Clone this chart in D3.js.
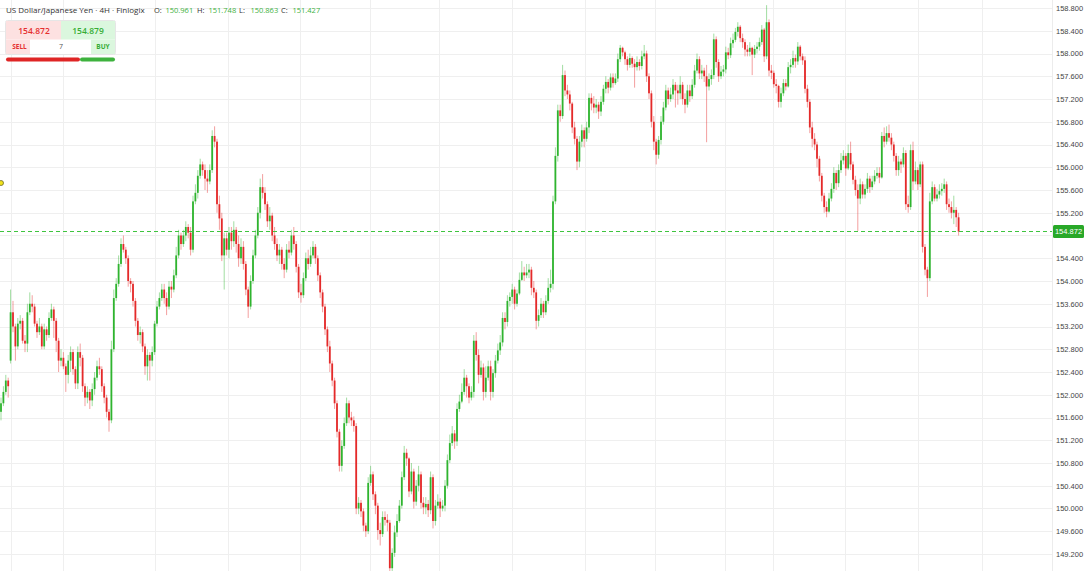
<!DOCTYPE html>
<html>
<head>
<meta charset="utf-8">
<script src="https://cdn.jsdelivr.net/npm/d3@7"></script>
<style>
  html, body { margin: 0; padding: 0; background: #fff; overflow: hidden; }
  svg { display: block; }
</style>
</head>
<body>
<div id="chart"></div>
<script>
// USD/JPY 4H candles (oldest first)
var opens = [
151.70,151.85,152.05,152.25,152.60,153.45,153.20,152.85,153.25,153.30,152.95,152.90,153.45,153.60,153.55,153.25,153.10,153.20,152.85,153.15,
153.05,153.35,153.50,153.30,152.95,152.60,152.65,152.50,152.35,152.60,152.75,152.45,152.20,152.75,152.65,152.15,151.95,152.05,151.90,152.10,
152.30,152.50,152.45,152.15,151.95,151.70,151.55,152.80,153.70,153.95,154.30,154.65,154.55,154.40,154.00,153.95,153.65,153.30,153.05,153.10,
152.85,152.50,152.70,152.60,152.75,153.25,153.55,153.70,153.85,153.70,153.55,153.90,153.85,154.10,154.45,154.80,154.65,154.80,154.95,154.85,
154.55,155.40,155.55,155.85,156.05,155.95,155.80,155.75,155.95,156.55,156.45,155.35,155.10,154.45,154.75,154.55,154.85,154.70,154.90,154.65,
154.40,154.60,154.30,153.85,153.55,154.00,154.45,154.80,155.20,155.65,155.55,155.35,155.05,155.15,154.80,154.65,154.45,154.55,154.30,154.20,
154.55,154.50,154.80,154.65,154.25,153.80,153.75,154.05,154.40,154.30,154.45,154.60,154.40,154.10,153.80,153.55,153.15,152.85,152.55,152.25,
151.85,151.35,150.75,151.10,151.50,151.85,151.60,151.55,151.45,150.00,150.10,149.95,149.70,149.60,150.45,150.60,150.25,150.05,149.62,149.55,
149.85,149.80,149.75,148.95,149.22,149.58,149.78,150.05,150.55,150.98,150.88,150.30,150.65,150.12,150.40,150.60,150.10,150.02,150.08,149.97,
150.55,149.78,150.05,150.12,150.00,150.05,150.40,150.85,151.15,151.32,151.18,151.75,151.88,152.05,152.30,152.15,151.95,152.05,152.95,152.70,
152.35,152.48,152.05,152.30,152.50,152.05,152.38,152.60,152.78,152.92,153.35,153.28,153.65,153.72,153.85,153.60,153.78,154.02,154.15,154.10,
154.15,154.20,153.88,153.80,153.30,153.40,153.60,153.45,153.65,153.88,153.95,155.40,156.20,157.00,156.90,157.62,157.35,157.28,157.12,156.70,
156.50,156.10,156.45,156.65,156.50,156.70,157.22,157.12,157.05,157.10,156.98,157.15,157.38,157.50,157.40,157.58,157.48,157.56,157.90,158.10,
158.02,157.90,157.80,157.92,157.82,157.76,157.85,157.78,157.95,158.00,157.60,157.30,156.80,156.45,156.22,156.48,156.80,157.05,157.35,157.20,
157.28,157.45,157.35,157.30,157.45,157.20,157.10,157.35,157.25,157.45,157.70,157.90,157.65,157.70,157.60,157.42,157.55,157.62,158.25,157.85,
157.60,157.68,157.72,158.02,157.97,158.18,158.24,158.38,158.47,158.27,158.20,158.07,158.03,158.10,157.98,158.08,158.12,158.20,158.42,157.95,
158.55,157.70,157.66,157.46,157.43,157.15,157.30,157.48,157.42,157.76,157.80,157.92,157.86,158.12,157.95,157.88,157.38,157.15,156.70,156.50,
156.40,156.15,155.85,155.50,155.30,155.22,155.45,155.62,155.90,155.72,155.95,156.12,156.20,155.98,156.25,156.05,155.78,155.60,155.45,155.70,
155.52,155.62,155.80,155.65,155.75,155.85,155.90,155.82,156.55,156.45,156.60,156.52,156.40,156.20,155.95,156.10,156.05,156.25,155.35,155.30,
156.30,155.75,155.95,155.70,156.05,154.60,154.20,154.05,155.40,155.65,155.45,155.52,155.58,155.62,155.70,155.35,155.30,155.20,155.25,155.12
];
var highs = [
151.95,152.15,152.35,152.30,153.85,153.65,153.25,153.35,153.40,153.35,153.05,153.60,153.80,153.75,153.60,153.30,153.35,153.25,153.25,153.20,
153.45,153.60,153.55,153.35,153.00,152.80,152.75,152.55,152.70,152.85,152.80,152.50,152.85,152.90,152.70,152.20,152.15,152.10,152.20,152.40,
152.60,152.65,152.50,152.20,152.00,151.75,152.95,153.85,154.05,154.45,154.75,154.80,154.60,154.45,154.05,154.00,153.70,153.35,153.20,153.15,
152.90,152.80,152.75,152.85,153.30,153.65,153.80,153.95,153.95,153.80,154.00,154.00,154.20,154.60,154.90,154.85,154.90,155.05,155.00,154.95,
155.50,155.70,155.95,156.15,156.10,156.05,155.95,156.05,156.65,156.72,156.50,155.50,155.20,154.85,154.85,154.95,154.95,155.05,154.95,154.80,
154.75,154.70,154.35,153.90,154.10,154.55,154.90,155.30,155.80,155.88,155.65,155.40,155.30,155.20,154.95,154.75,154.65,154.60,154.40,154.65,
154.70,154.90,154.95,154.70,154.30,153.95,154.15,154.50,154.55,154.60,154.70,154.65,154.45,154.15,153.85,153.60,153.20,152.95,152.60,152.30,
151.90,151.40,151.20,151.60,151.95,151.90,151.70,151.62,151.50,150.20,150.15,150.00,149.75,150.55,150.75,150.65,150.30,150.10,149.75,149.95,
149.95,149.90,149.80,149.30,149.70,149.90,150.15,150.65,151.10,151.05,150.90,150.80,150.70,150.50,150.75,150.65,150.20,150.20,150.15,150.65,
150.60,150.15,150.25,150.18,150.15,150.50,150.95,151.30,151.45,151.38,151.85,152.00,152.20,152.45,152.35,152.20,152.15,153.05,153.10,152.80,
152.60,152.55,152.50,152.60,152.60,152.45,152.70,152.90,153.05,153.45,153.45,153.75,153.80,153.95,153.90,153.85,154.15,154.35,154.25,154.30,
154.30,154.25,154.00,153.85,153.50,153.70,153.65,153.75,154.05,154.20,155.50,156.35,157.10,157.10,157.80,157.70,157.45,157.35,157.15,156.80,
156.55,156.55,156.75,156.70,156.80,157.30,157.30,157.25,157.20,157.15,157.25,157.45,157.60,157.55,157.65,157.65,157.65,158.00,158.15,158.12,
158.05,157.95,158.00,157.95,157.90,157.95,157.90,158.05,158.15,158.05,157.65,157.35,156.90,156.50,156.55,156.90,157.15,157.45,157.40,157.40,
157.55,157.50,157.45,157.60,157.50,157.30,157.45,157.45,157.55,157.80,158.00,157.95,157.80,157.75,157.80,157.65,157.72,158.35,158.30,157.90,
157.78,157.80,158.12,158.10,158.28,158.35,158.45,158.55,158.50,158.35,158.25,158.15,158.20,158.12,158.15,158.20,158.28,158.50,158.45,158.85,
158.60,157.80,157.70,157.55,157.45,157.40,157.55,157.55,157.85,157.90,158.05,157.98,158.20,158.15,158.00,157.95,157.45,157.20,156.80,156.60,
156.45,156.20,155.90,155.55,155.40,155.55,155.72,156.00,155.95,156.05,156.25,156.30,156.25,156.40,156.45,156.10,155.85,155.70,155.80,155.75,
155.70,155.90,155.85,155.85,155.95,156.00,156.00,156.62,156.70,156.72,156.75,156.60,156.45,156.25,156.20,156.15,156.35,156.30,155.50,156.40,
156.45,156.10,156.00,156.10,156.10,154.65,154.25,155.55,155.75,155.70,155.62,155.70,155.72,155.80,155.75,155.45,155.40,155.50,155.30,155.20
];
var lows = [
151.55,151.80,152.00,151.95,152.55,153.10,152.60,152.80,153.15,152.90,152.75,152.75,153.40,153.45,153.20,153.00,153.05,152.80,152.80,152.95,
153.00,153.30,153.00,152.75,152.40,152.50,152.45,152.05,152.20,152.40,152.35,152.10,152.10,152.50,152.05,151.80,151.85,151.75,151.80,152.00,
152.25,152.35,152.05,151.85,151.60,151.35,151.50,152.75,153.65,153.90,154.25,154.50,154.30,153.90,153.80,153.55,153.20,152.95,152.90,152.75,
152.35,152.25,152.25,152.50,152.70,153.20,153.50,153.65,153.60,153.40,153.50,153.70,153.80,154.05,154.40,154.55,154.60,154.70,154.75,154.45,
154.50,155.35,155.45,155.80,155.85,155.60,155.55,155.70,155.90,156.35,155.20,154.90,154.35,153.85,154.45,154.40,154.55,154.60,154.50,154.25,
154.30,154.20,153.75,153.35,153.50,153.95,154.40,154.75,155.10,155.45,155.25,154.95,154.90,154.70,154.55,154.35,154.30,154.20,154.05,154.15,
154.40,154.45,154.55,154.15,153.70,153.62,153.70,154.00,154.20,154.25,154.40,154.30,154.00,153.70,153.45,153.05,152.75,152.40,152.15,151.75,
151.25,150.65,150.65,151.05,151.45,151.50,151.45,151.35,149.90,149.90,149.85,149.60,149.50,149.55,150.40,150.15,149.90,149.45,149.35,149.50,
149.70,149.60,148.85,148.90,149.15,149.50,149.75,150.00,150.50,150.75,150.20,150.25,150.00,150.05,150.30,150.00,149.90,149.90,149.85,149.90,
149.65,149.70,150.00,149.85,149.95,149.95,150.35,150.80,151.10,151.05,151.10,151.70,151.85,152.00,151.95,151.85,151.90,151.95,152.60,152.20,
152.30,151.90,151.95,152.25,151.90,151.95,152.30,152.55,152.70,152.85,153.15,153.20,153.55,153.60,153.50,153.55,153.75,154.00,154.00,154.05,
154.05,153.75,153.70,153.15,153.20,153.35,153.35,153.40,153.60,153.80,153.85,155.35,156.10,156.80,156.85,157.25,157.20,157.00,156.60,156.40,
155.95,156.00,156.35,156.35,156.45,156.60,157.00,156.95,156.95,156.85,156.90,157.10,157.30,157.30,157.35,157.40,157.45,157.50,157.85,157.95,
157.80,157.70,157.75,157.75,157.40,157.70,157.70,157.72,157.90,157.50,157.20,156.70,156.30,156.05,156.15,156.40,156.75,157.00,157.10,157.15,
157.20,157.05,157.10,157.20,157.10,156.95,157.05,157.15,157.20,157.40,157.65,157.55,157.55,157.50,156.44,157.35,157.45,157.55,157.75,157.50,
157.55,157.60,157.65,157.90,157.92,158.10,158.20,158.30,158.20,158.10,157.95,157.95,157.95,157.62,157.92,158.00,158.05,158.15,157.85,157.90,
157.60,157.55,157.40,157.30,157.05,157.05,157.25,157.35,157.40,157.65,157.75,157.75,157.80,157.88,157.80,157.30,157.05,156.60,156.35,156.30,
156.00,155.75,155.40,155.20,155.12,155.20,155.40,155.55,155.60,155.65,155.90,156.05,155.85,155.95,155.95,155.70,155.50,154.88,155.35,155.45,
155.45,155.55,155.55,155.60,155.70,155.80,155.72,155.80,156.35,156.40,156.45,156.30,156.10,155.85,155.85,155.90,156.00,155.25,155.20,155.25,
155.60,155.70,155.60,155.65,154.50,154.10,153.72,154.00,155.35,155.40,155.40,155.45,155.50,155.55,155.25,155.20,155.10,155.00,154.95,154.80
];
var closes = [
151.85,152.05,152.25,152.15,153.45,153.20,152.85,153.25,153.30,152.95,152.90,153.45,153.60,153.55,153.25,153.10,153.20,152.85,153.15,153.05,
153.35,153.50,153.30,152.95,152.60,152.65,152.50,152.35,152.60,152.75,152.45,152.20,152.75,152.65,152.15,151.95,152.05,151.90,152.10,152.30,
152.50,152.45,152.15,151.95,151.70,151.55,152.80,153.70,153.95,154.30,154.65,154.55,154.40,154.00,153.95,153.65,153.30,153.05,153.10,152.85,
152.50,152.70,152.60,152.75,153.25,153.55,153.70,153.85,153.70,153.55,153.90,153.85,154.10,154.45,154.80,154.65,154.80,154.95,154.85,154.55,
155.40,155.55,155.85,156.05,155.95,155.80,155.75,155.95,156.55,156.45,155.35,155.10,154.45,154.75,154.55,154.85,154.70,154.90,154.65,154.40,
154.60,154.30,153.85,153.55,154.00,154.45,154.80,155.20,155.65,155.55,155.35,155.05,155.15,154.80,154.65,154.45,154.55,154.30,154.20,154.55,
154.50,154.80,154.65,154.25,153.80,153.75,154.05,154.40,154.30,154.45,154.60,154.40,154.10,153.80,153.55,153.15,152.85,152.55,152.25,151.85,
151.35,150.75,151.10,151.50,151.85,151.60,151.55,151.45,150.00,150.10,149.95,149.70,149.60,150.45,150.60,150.25,150.05,149.62,149.55,149.85,
149.80,149.75,148.95,149.22,149.58,149.78,150.05,150.55,150.98,150.88,150.30,150.65,150.12,150.40,150.60,150.10,150.02,150.08,149.97,150.55,
149.78,150.05,150.12,150.00,150.05,150.40,150.85,151.15,151.32,151.18,151.75,151.88,152.05,152.30,152.15,151.95,152.05,152.95,152.70,152.35,
152.48,152.05,152.30,152.50,152.05,152.38,152.60,152.78,152.92,153.35,153.28,153.65,153.72,153.85,153.60,153.78,154.02,154.15,154.10,154.15,
154.20,153.88,153.80,153.30,153.40,153.60,153.45,153.65,153.88,153.95,155.40,156.20,157.00,156.90,157.62,157.35,157.28,157.12,156.70,156.50,
156.10,156.45,156.65,156.50,156.70,157.22,157.12,157.05,157.10,156.98,157.15,157.38,157.50,157.40,157.58,157.48,157.56,157.90,158.10,158.02,
157.90,157.80,157.92,157.82,157.76,157.85,157.78,157.95,158.00,157.60,157.30,156.80,156.45,156.22,156.48,156.80,157.05,157.35,157.20,157.28,
157.45,157.35,157.30,157.45,157.20,157.10,157.35,157.25,157.45,157.70,157.90,157.65,157.70,157.60,157.42,157.55,157.62,158.25,157.85,157.60,
157.68,157.72,158.02,157.97,158.18,158.24,158.38,158.47,158.27,158.20,158.07,158.03,158.10,157.98,158.08,158.12,158.20,158.42,157.95,158.55,
157.70,157.66,157.46,157.43,157.15,157.30,157.48,157.42,157.76,157.80,157.92,157.86,158.12,157.95,157.88,157.38,157.15,156.70,156.50,156.40,
156.15,155.85,155.50,155.30,155.22,155.45,155.62,155.90,155.72,155.95,156.12,156.20,155.98,156.25,156.05,155.78,155.60,155.45,155.70,155.52,
155.62,155.80,155.65,155.75,155.85,155.90,155.82,156.55,156.45,156.60,156.52,156.40,156.20,155.95,156.10,156.05,156.25,155.35,155.30,156.30,
155.75,155.95,155.70,156.05,154.60,154.20,154.05,155.40,155.65,155.45,155.52,155.58,155.62,155.70,155.35,155.30,155.20,155.25,155.12,154.87
];

// price axis labels and time grid (candle index where each day line falls)
var priceTicks = [149.2, 149.6, 150.0, 150.4, 150.8, 151.2, 151.6, 152.0, 152.4, 152.8, 153.2, 153.6,
                  154.0, 154.4, 154.8, 155.2, 155.6, 156.0, 156.4, 156.8, 157.2, 157.6, 158.0, 158.4, 158.8];
var timeTicks = [4, 26, 64.3, 94.4, 124.5, 153.8, 182.7, 213.1, 243.3, 272.5, 301.5, 321.5, 351.6, 382, 408.9];

var lastPrice = 154.872, bidPrice = "154.872", askPrice = "154.879";
var title = "US Dollar/Japanese Yen \u00b7 4H \u00b7 Finlogix";
var ohlcLabels = ["O:", "H:", "L:", "C:"];
var ohlcValues = ["150.961", "151.748", "150.863", "151.427"];

var width = 1090, height = 571, plotRight = 1052;
var upColor = "#2fb42f", downColor = "#e42a2a";

var svg = d3.select("#chart").append("svg").attr("width", width).attr("height", height);

var x = d3.scaleLinear().domain([0, closes.length - 1]).range([1, 958.6]);
var y = d3.scaleLinear().domain([149.2, 158.8]).range([554, 8]);

// grid
var grid = svg.append("g").attr("shape-rendering", "crispEdges");
grid.selectAll("line.h").data(priceTicks).enter().append("line")
  .attr("x1", 0).attr("x2", plotRight)
  .attr("y1", function(d) { return Math.round(y(d)) + 0.5; })
  .attr("y2", function(d) { return Math.round(y(d)) + 0.5; })
  .attr("stroke", "#efefef");
grid.selectAll("line.v").data(timeTicks).enter().append("line")
  .attr("x1", function(d) { return Math.round(x(d)) + 0.5; })
  .attr("x2", function(d) { return Math.round(x(d)) + 0.5; })
  .attr("y1", 0).attr("y2", height)
  .attr("stroke", "#efefef");

// candles
var idx = d3.range(closes.length);
var candles = svg.append("g");
candles.selectAll("line.wick").data(idx).enter().append("line")
  .attr("x1", function(i) { return x(i); })
  .attr("x2", function(i) { return x(i); })
  .attr("y1", function(i) { return y(Math.max(highs[i], opens[i], closes[i])); })
  .attr("y2", function(i) { return y(Math.min(lows[i], opens[i], closes[i])); })
  .attr("stroke", function(i) { return closes[i] >= opens[i] ? upColor : downColor; })
  .attr("stroke-opacity", 0.45)
  .attr("stroke-width", 1);
candles.selectAll("rect.body").data(idx).enter().append("rect")
  .attr("x", function(i) { return x(i) - 0.9; })
  .attr("width", 1.8)
  .attr("y", function(i) { return y(Math.max(opens[i], closes[i])); })
  .attr("height", function(i) { return Math.max(1, Math.abs(y(opens[i]) - y(closes[i]))); })
  .attr("fill", function(i) { return closes[i] >= opens[i] ? upColor : downColor; });

// last price line, drawn as short green dashes
var dashY = Math.round(y(lastPrice));
svg.append("g").selectAll("rect").data(d3.range(0, plotRight, 7)).enter().append("rect")
  .attr("x", function(d) { return d; }).attr("y", dashY)
  .attr("width", 4).attr("height", 1)
  .attr("fill", "#3fc43f");

// right price axis (the label under the last-price tag is hidden, as in the source)
svg.append("line").attr("x1", plotRight + 0.5).attr("x2", plotRight + 0.5)
  .attr("y1", 0).attr("y2", height).attr("stroke", "#ececec");
var shownTicks = priceTicks.filter(function(d) { return Math.abs(y(d) - y(lastPrice)) > 9; });
var axis = svg.append("g").attr("transform", "translate(" + plotRight + ",0)")
  .call(d3.axisRight(y).tickValues(shownTicks).tickSize(0).tickPadding(4).tickFormat(d3.format(".3f")));
axis.select(".domain").remove();
axis.selectAll("text").attr("font-family", "Liberation Sans, Arial, sans-serif")
  .attr("font-size", "7.5px").attr("fill", "#444");

var lp = svg.append("g").attr("transform", "translate(" + (plotRight + 1) + "," + y(lastPrice) + ")");
lp.append("rect").attr("x", 0).attr("y", -6.5).attr("width", 31).attr("height", 13).attr("rx", 1.5).attr("fill", "#28a828");
lp.append("text").attr("x", 15.5).attr("y", 2.8).attr("text-anchor", "middle")
  .attr("font-family", "Liberation Sans, Arial, sans-serif").attr("font-size", "7.5px")
  .attr("fill", "#fff").text(lastPrice.toFixed(3));

// small drawing marker at the left edge
svg.append("circle").attr("cx", 1).attr("cy", 183).attr("r", 2.5)
  .attr("fill", "#f2e21b").attr("stroke", "#6b6b2a").attr("stroke-width", 0.8);

// header
var head = svg.append("g").attr("font-family", "Open Sans, sans-serif").attr("font-size", "8px");
head.append("text").attr("x", 6).attr("y", 12.5).attr("fill", "#333").text(title);
var ohlcX = [154, 197, 239, 281];
ohlcLabels.forEach(function(l, k) {
  head.append("text").attr("x", ohlcX[k]).attr("y", 12.5).attr("fill", "#333").attr("font-size", "7.5px").text(l);
  head.append("text").attr("x", ohlcX[k] + 11.5).attr("y", 12.5).attr("fill", "#3db23d").attr("font-size", "7.5px").text(ohlcValues[k]);
});

// sell / buy widget
var w = svg.append("g").attr("font-family", "Open Sans, sans-serif");
w.append("rect").attr("x", 5.5).attr("y", 20.5).attr("width", 110).attr("height", 34).attr("rx", 2)
  .attr("fill", "#fff").attr("stroke", "#e6e6e6");
w.append("rect").attr("x", 6).attr("y", 21).attr("width", 55).attr("height", 18.5).attr("fill", "#fde1e1");
w.append("rect").attr("x", 61).attr("y", 21).attr("width", 54).attr("height", 18.5).attr("fill", "#dbf7de");
w.append("rect").attr("x", 6).attr("y", 39.5).attr("width", 24).attr("height", 14.5).attr("fill", "#fde1e1");
w.append("rect").attr("x", 91).attr("y", 39.5).attr("width", 24).attr("height", 14.5).attr("fill", "#dbf7de");
w.append("text").attr("x", 34).attr("y", 33.5).attr("text-anchor", "middle").attr("font-size", "8.5px")
  .attr("font-weight", 600).attr("fill", "#e53030").text(bidPrice);
w.append("text").attr("x", 88).attr("y", 33.5).attr("text-anchor", "middle").attr("font-size", "8.5px")
  .attr("font-weight", 600).attr("fill", "#36ad36").text(askPrice);
w.append("text").attr("x", 19.5).attr("y", 49).attr("text-anchor", "middle").attr("font-size", "6.5px")
  .attr("font-weight", 700).attr("fill", "#e53030").text("SELL");
w.append("text").attr("x", 61).attr("y", 49).attr("text-anchor", "middle").attr("font-size", "7px")
  .attr("fill", "#555").text("7");
w.append("text").attr("x", 103).attr("y", 49).attr("text-anchor", "middle").attr("font-size", "6.5px")
  .attr("font-weight", 700).attr("fill", "#36ad36").text("BUY");
w.append("rect").attr("x", 6).attr("y", 57.5).attr("width", 74).attr("height", 4).attr("rx", 2).attr("fill", "#df2525");
w.append("rect").attr("x", 80).attr("y", 57.5).attr("width", 35).attr("height", 4).attr("rx", 2).attr("fill", "#3db23d");
</script>
</body>
</html>
